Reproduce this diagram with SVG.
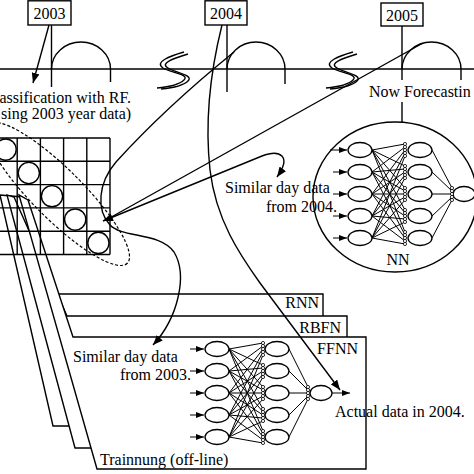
<svg xmlns="http://www.w3.org/2000/svg" xmlns:xlink="http://www.w3.org/1999/xlink" width="474" height="474" viewBox="0 0 474 474">
<style>
  .ln{fill:none;stroke:#000;stroke-width:1.4}
  .thin{fill:none;stroke:#000;stroke-width:1}
  .box{fill:#fff;stroke:#000;stroke-width:1.4}
  .panel{fill:#fff;stroke:#000;stroke-width:1.4;stroke-linejoin:miter}
  .node{fill:#fff;stroke:#000;stroke-width:1.3}
  .dot{fill:#fff;stroke:#000;stroke-width:0.8}
  text{font-family:"Liberation Serif","Times New Roman",serif;font-size:16px;fill:#000}
</style>
<defs>
  <marker id="ah" markerUnits="userSpaceOnUse" markerWidth="10" markerHeight="8" refX="10" refY="4" orient="auto-start-reverse">
    <path d="M0,0 L10,4 L0,8 Z" fill="#000"/>
  </marker>
  <marker id="ahs" markerUnits="userSpaceOnUse" markerWidth="8" markerHeight="6" refX="8" refY="3" orient="auto">
    <path d="M0,0 L8,3 L0,6 Z" fill="#000"/>
  </marker>
  <g id="dots">
    <circle class="dot" cx="0" cy="-6" r="1.6"/>
    <circle class="dot" cx="0" cy="-3" r="1.6"/>
    <circle class="dot" cx="0" cy="0" r="1.6"/>
    <circle class="dot" cx="0" cy="3" r="1.6"/>
    <circle class="dot" cx="0" cy="6" r="1.6"/>
  </g>
  <g id="sbreak">
    <path class="ln" d="M184,52 C170,56 154,62 163,68 C171,73 190,74 184,80 C179,85 168,87 157,88"/>
    <path class="ln" d="M188,54 C175,58 159,63 168,68 C176,73 194,75 188,81 C183,86 172,88 161,89"/>
  </g>
</defs>

<!-- timeline -->
<g id="timeline">
  <line class="ln" x1="0" y1="69" x2="474" y2="69"/>
  <line class="ln" x1="51.5" y1="25" x2="51.5" y2="87"/>
  <path class="ln" d="M51.5,69 A29.5,27 0 0 1 110.5,69 L110.5,82"/>
  <line class="ln" x1="227" y1="25" x2="227" y2="92"/>
  <path class="ln" d="M227,69 A29,27 0 0 1 285,69 L285,84"/>
  <line class="ln" x1="402" y1="26" x2="402" y2="80"/>
  <path class="ln" d="M402,69 A29.5,27 0 0 1 461,69 L461,80"/>
  <use xlink:href="#sbreak"/>
  <use xlink:href="#sbreak" transform="translate(169,0)"/>
</g>

<g id="y2003"><rect class="box" x="28" y="0.8" width="43" height="24.2"/><text x="49.5" y="19" text-anchor="middle">2003</text></g>
<g id="y2004"><rect class="box" x="205" y="0.8" width="42" height="24.2"/><text x="226" y="19" text-anchor="middle">2004</text></g>
<g id="y2005"><rect class="box" x="381" y="3" width="42" height="23"/><text x="402" y="20.5" text-anchor="middle">2005</text></g>

<g id="labels">
  <text x="131" y="103" text-anchor="end">assification with RF.</text>
  <text x="1" y="119">sing 2003 year data)</text>
  <text x="369" y="97">Now Forecastin</text>
  <line class="ln" x1="402" y1="102" x2="402" y2="122"/>
</g>

<!-- training panels -->
<g id="rnn">
  <polygon class="panel" points="22,197 57,294 323,294 323,426 53,426 0,195"/>
  <text x="319" y="308" text-anchor="end">RNN</text>
</g>
<g id="rbfn">
  <polygon class="panel" points="14,197 67,316 347,316 347,448 75,448 7,195"/>
  <text x="341" y="333" text-anchor="end">RBFN</text>
</g>
<g id="ffnn">
  <polygon class="panel" points="28,200 73,337 366,337 366,469 97,469 19,195"/>
  <text x="358" y="354" text-anchor="end">FFNN</text>
  <text x="100" y="465">Trainnung (off-line)</text>
  <text x="73" y="362">Similar day data</text>
  <text x="191" y="380" text-anchor="end">from 2003.</text>
  <g id="ffnn-net">
    <path class="thin" d="M229,349 L263,343 M229,349 L263,365 M229,349 L263,387 M229,349 L263,409 M229,349 L263,431
      M229,371 L263,346 M229,371 L263,368 M229,371 L263,390 M229,371 L263,412 M229,371 L263,434
      M229,393 L263,349 M229,393 L263,371 M229,393 L263,393 M229,393 L263,415 M229,393 L263,437
      M229,415 L263,352 M229,415 L263,374 M229,415 L263,396 M229,415 L263,418 M229,415 L263,440
      M229,437 L263,355 M229,437 L263,377 M229,437 L263,399 M229,437 L263,421 M229,437 L263,443
      M289,349 L308,387 M289,371 L308,390 M289,393 L308,393 M289,415 L308,396 M289,437 L308,399"/>
    <line class="thin" x1="190" y1="349" x2="204" y2="349" marker-end="url(#ahs)"/>
    <line class="thin" x1="190" y1="371" x2="204" y2="371" marker-end="url(#ahs)"/>
    <line class="thin" x1="190" y1="393" x2="204" y2="393" marker-end="url(#ahs)"/>
    <line class="thin" x1="190" y1="415" x2="204" y2="415" marker-end="url(#ahs)"/>
    <line class="thin" x1="190" y1="437" x2="204" y2="437" marker-end="url(#ahs)"/>
    <ellipse class="node" cx="217" cy="349" rx="12" ry="7.5"/>
    <ellipse class="node" cx="217" cy="371" rx="12" ry="7.5"/>
    <ellipse class="node" cx="217" cy="393" rx="12" ry="7.5"/>
    <ellipse class="node" cx="217" cy="415" rx="12" ry="7.5"/>
    <ellipse class="node" cx="217" cy="437" rx="12" ry="7.5"/>
    <ellipse class="node" cx="277" cy="349" rx="12" ry="7.5"/>
    <ellipse class="node" cx="277" cy="371" rx="12" ry="7.5"/>
    <ellipse class="node" cx="277" cy="393" rx="12" ry="7.5"/>
    <ellipse class="node" cx="277" cy="415" rx="12" ry="7.5"/>
    <ellipse class="node" cx="277" cy="437" rx="12" ry="7.5"/>
    <use xlink:href="#dots" x="263" y="349"/>
    <use xlink:href="#dots" x="263" y="371"/>
    <use xlink:href="#dots" x="263" y="393"/>
    <use xlink:href="#dots" x="263" y="415"/>
    <use xlink:href="#dots" x="263" y="437"/>
    <ellipse class="node" cx="321" cy="393" rx="11" ry="7.5"/>
    <use xlink:href="#dots" x="308" y="393"/>
    <line class="thin" x1="332" y1="393" x2="350" y2="393" marker-end="url(#ahs)"/>
  </g>
  <text x="335" y="417">Actual data in 2004.</text>
</g>

<!-- classification grid -->
<g id="grid">
  <path class="ln" d="M-6,138 H110 M-6,161.3 H110 M-6,184.6 H110 M-6,207.9 H110 M-6,231.2 H110 M-6,254.5 H110
    M-6,138 V254.5 M17.2,138 V254.5 M40.4,138 V254.5 M63.6,138 V254.5 M86.8,138 V254.5 M110,138 V254.5"/>
  <circle class="ln" cx="5.6" cy="149.6" r="10.6"/>
  <circle class="ln" cx="28.8" cy="173" r="10.6"/>
  <circle class="ln" cx="52" cy="196.2" r="10.6"/>
  <circle class="ln" cx="75.2" cy="219.6" r="10.6"/>
  <circle class="ln" cx="98.4" cy="242.9" r="10.6"/>
  <ellipse fill="none" stroke="#000" stroke-width="1.2" stroke-dasharray="3,2" cx="58" cy="194" rx="98" ry="25" transform="rotate(45 58 194)"/>
</g>

<!-- forecasting NN -->
<g id="nn">
  <ellipse class="ln" cx="395" cy="197" rx="82" ry="75"/>
  <path class="thin" d="M372,150 L405,144 M372,150 L405,166 M372,150 L405,188 M372,150 L405,210 M372,150 L405,232
    M372,172 L405,147 M372,172 L405,169 M372,172 L405,191 M372,172 L405,213 M372,172 L405,235
    M372,194 L405,150 M372,194 L405,172 M372,194 L405,194 M372,194 L405,216 M372,194 L405,238
    M372,216 L405,153 M372,216 L405,175 M372,216 L405,197 M372,216 L405,219 M372,216 L405,241
    M372,238 L405,156 M372,238 L405,178 M372,238 L405,200 M372,238 L405,222 M372,238 L405,244
    M432,150 L452,188 M432,172 L452,191 M432,194 L452,194 M432,216 L452,197 M432,238 L452,200"/>
  <line class="thin" x1="330" y1="150" x2="347" y2="150" marker-end="url(#ahs)"/>
  <line class="thin" x1="333" y1="172" x2="347" y2="172" marker-end="url(#ahs)"/>
  <line class="thin" x1="333" y1="194" x2="347" y2="194" marker-end="url(#ahs)"/>
  <line class="thin" x1="333" y1="216" x2="347" y2="216" marker-end="url(#ahs)"/>
  <line class="thin" x1="333" y1="238" x2="347" y2="238" marker-end="url(#ahs)"/>
  <ellipse class="node" cx="360" cy="150" rx="12" ry="7.5"/>
  <ellipse class="node" cx="360" cy="172" rx="12" ry="7.5"/>
  <ellipse class="node" cx="360" cy="194" rx="12" ry="7.5"/>
  <ellipse class="node" cx="360" cy="216" rx="12" ry="7.5"/>
  <ellipse class="node" cx="360" cy="238" rx="12" ry="7.5"/>
  <ellipse class="node" cx="420" cy="150" rx="12" ry="7.5"/>
  <ellipse class="node" cx="420" cy="172" rx="12" ry="7.5"/>
  <ellipse class="node" cx="420" cy="194" rx="12" ry="7.5"/>
  <ellipse class="node" cx="420" cy="216" rx="12" ry="7.5"/>
  <ellipse class="node" cx="420" cy="238" rx="12" ry="7.5"/>
  <use xlink:href="#dots" x="405" y="150"/>
  <use xlink:href="#dots" x="405" y="172"/>
  <use xlink:href="#dots" x="405" y="194"/>
  <use xlink:href="#dots" x="405" y="216"/>
  <use xlink:href="#dots" x="405" y="238"/>
  <ellipse class="node" cx="464" cy="194" rx="11" ry="7.5"/>
  <use xlink:href="#dots" x="452" y="194"/>
  <text x="398" y="265" text-anchor="middle">NN</text>
  <text x="225" y="193">Similar day data</text>
  <text x="337" y="212" text-anchor="end">from 2004.</text>
</g>

<!-- connectors -->
<g id="connectors">
  <line class="ln" x1="49" y1="25" x2="33" y2="83" marker-end="url(#ah)"/>
  <path class="ln" d="M234,52 Q165,108 116,162 C98,183 96,210 110,225 C122,238 160,232 174,252 C188,275 178,318 153,345" marker-end="url(#ah)"/>
  <line class="ln" x1="423" y1="43" x2="106" y2="220"/>
  <path class="ln" d="M103,221 L262,156 C280,149 292,156 277,177" marker-start="url(#ah)" marker-end="url(#ah)"/>
  <path class="ln" d="M222,25 C212,65 204,115 210,170 C216,220 240,255 260,283 L340,390" marker-end="url(#ah)"/>
</g>
</svg>
